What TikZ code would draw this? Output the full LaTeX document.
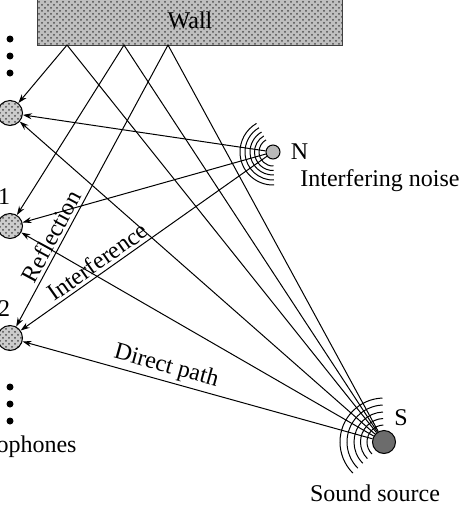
\documentclass[tikz,border=0pt]{standalone}
\usepackage{fontspec}
\setmainfont{Liberation Serif}
\usetikzlibrary{arrows.meta,positioning,patterns}

\begin{document}
\begin{tikzpicture}[x=0.5pt,y=-0.5pt,font=\fontsize{12}{14}\selectfont,
  line width=0.5pt,>={Stealth[length=4.5pt,width=3pt]},
  mic/.style={circle,draw,inner sep=0pt,minimum size=12.5pt,
    preaction={fill=gray!40},pattern=crosshatch dots,pattern color=gray!60!black},
  wave/.style={line width=0.5pt},
  lbl/.style={inner sep=1pt},
  along/.style={inner sep=1.5pt,anchor=south,rotate=#1}]
  \useasboundingbox (0,0) rectangle (474,521);
  \clip (0,0) rectangle (474,521);

  % wall
  \fill[gray!50] (37,-10) rectangle (342,45);
  \fill[pattern=crosshatch dots,pattern color=gray!60!black] (37,-10) rectangle (342,45);
  \draw[gray!50!black] (37,-10) rectangle (342,45);
  \node (walltxt) at (190,20) {Wall};
  \coordinate (w1) at (67,45);
  \coordinate (w2) at (124,45);
  \coordinate (w3) at (168,45);

  % microphones
  \node[mic] (mic0) at (10,113) {};
  \node[mic] (mic1) at (10,226) {};
  \node[mic] (mic2) at (10,338) {};
  \node[lbl] (lab1) at (4,197) {1};
  \node[lbl] (lab2) at (4,309) {2};
  \foreach \y in {39,56,73,387,404,421}
    \fill (10,\y) circle[radius=3.5];
  \node[lbl,anchor=east] (miclab) at (79,447) {Microphones};

  % sources
  \node[circle,draw,fill=gray!55,inner sep=0pt,minimum size=7pt] (noise) at (273,152) {};
  \node[circle,draw,fill=gray!85!black,inner sep=0pt,minimum size=11.5pt] (src) at (384,442) {};
  \node[lbl,right=4pt of noise] (Nlab) {N};
  \node[lbl] (noisetxt) at (380,181) {Interfering noise};
  \node[lbl] (Slab) at (401,418) {S};
  \node[lbl] (srctxt) at (375,493) {Sound source};

  \foreach \r in {14,18.5,23,28,33}
    \draw[wave] (noise.center) ++(88:\r) arc[start angle=88,end angle=240,radius=\r];
  \foreach \r in {17,23.5,30,37,44}
    \draw[wave] (src.center) ++(135:\r) arc[start angle=135,end angle=268,radius=\r];

  % paths
  \draw[->] (src) -- (w1) -- (mic0);
  \draw[->] (src) -- (w2) -- (mic1);
  \draw[->] (src) -- (w3) -- node[along=61.7,pos=0.7]{Reflection} (mic2);
  \draw[->] (noise) -- (mic0);
  \draw[->] (noise) -- (mic1);
  \draw[->] (noise) -- node[along=35.3,pos=0.66]{Interference} (mic2);
  \draw[->] (src) -- (mic0);
  \draw[->] (src) -- (mic1);
  \draw[->] (src) -- node[along=-15.5,pos=0.6]{Direct path} (mic2);
\end{tikzpicture}
\end{document}
